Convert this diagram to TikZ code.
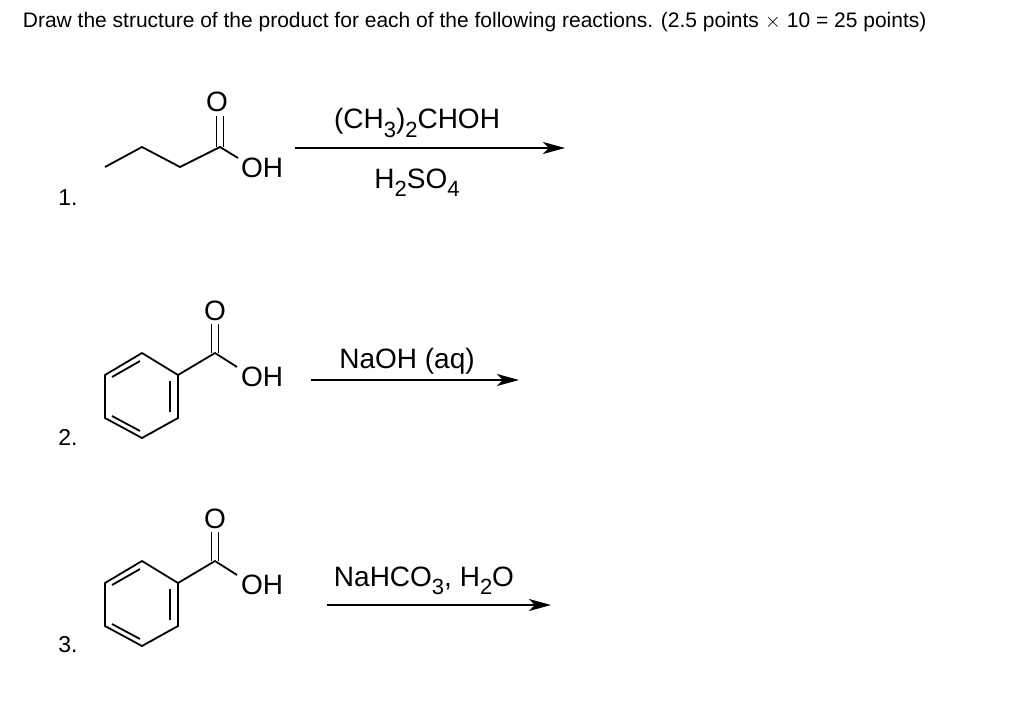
\documentclass[tikz,border=0pt]{standalone}
\usepackage{fontspec}
\setmainfont{Liberation Sans}
\usetikzlibrary{arrows.meta}
\newcommand{\dn}[1]{\raisebox{-0.3em}{\fontsize{22}{24}\selectfont #1}}
\begin{document}
\begin{tikzpicture}[x=1pt,y=-1pt,line width=1.8pt,
  lab/.style={inner sep=0pt,font=\fontsize{28}{32}\selectfont},
  bond/.style={line join=miter},
  rxn/.style={line width=1.6pt,-{Stealth[length=22pt,width=12pt,inset=6pt]}}]
\useasboundingbox (0,0) rectangle (1024,703);
\node[anchor=west,inner sep=0pt,font=\fontsize{21}{24}\selectfont] (title) at (22,22) {Draw the structure of the product for each of the following reactions. (2.5 points $\times$ 10 = 25 points)};
% molecule 1
\coordinate (a1) at (105,167); \coordinate (a2) at (142,147); \coordinate (a3) at (180,167); \coordinate (a4) at (220,147);
\node[lab] (o1) at (217,102) {O};
\node[lab] (oh1) at (262,168) {OH};
\draw[bond] (a1)--(a2)--(a3)--(a4)--(238,158);
\draw (216.5,147)--(216.5,116) (223.5,147)--(223.5,116);
\node[lab,font=\fontsize{23}{26}\selectfont] (n1) at (68,198) {1.};
\coordinate (r1s) at (295,148); \coordinate (r1e) at (565,148);
\draw[rxn] (r1s)--(r1e);
\node[lab] (t1) at (417,123) {(CH\dn{3})\dn{2}CHOH};
\node[lab] (b1) at (417,183) {H\dn{2}SO\dn{4}};
% molecules 2 and 3
\foreach \dy/\n in {0/2,208/3}{
\begin{scope}[yshift=-\dy]
\coordinate (c1) at (142,353); \coordinate (c2) at (178,375); \coordinate (c3) at (178,418);
\coordinate (c4) at (142,438); \coordinate (c5) at (105,418); \coordinate (c6) at (105,375);
\draw[bond] (c1)--(c2)--(c3)--(c4)--(c5)--(c6)--cycle;
\draw (170,381)--(170,412) (112,377)--(140,361) (112,416)--(140,431);
\draw (c2)--(215,353)--(237,367);
\draw (211.5,353)--(211.5,324) (218.5,353)--(218.5,324);
\node[lab] at (215,311) {O};
\node[lab] at (262,377) {OH};
\node[lab,font=\fontsize{23}{26}\selectfont] at (68,437) {\n.};
\end{scope}}
\draw[rxn] (311,380)--(519,380);
\node[lab] (t2) at (407,361) {NaOH (aq)};
\draw[rxn] (327,605)--(551,605);
\node[lab] (t3) at (424,581) {NaHCO\dn{3}, H\dn{2}O};
\end{tikzpicture}
\end{document}
